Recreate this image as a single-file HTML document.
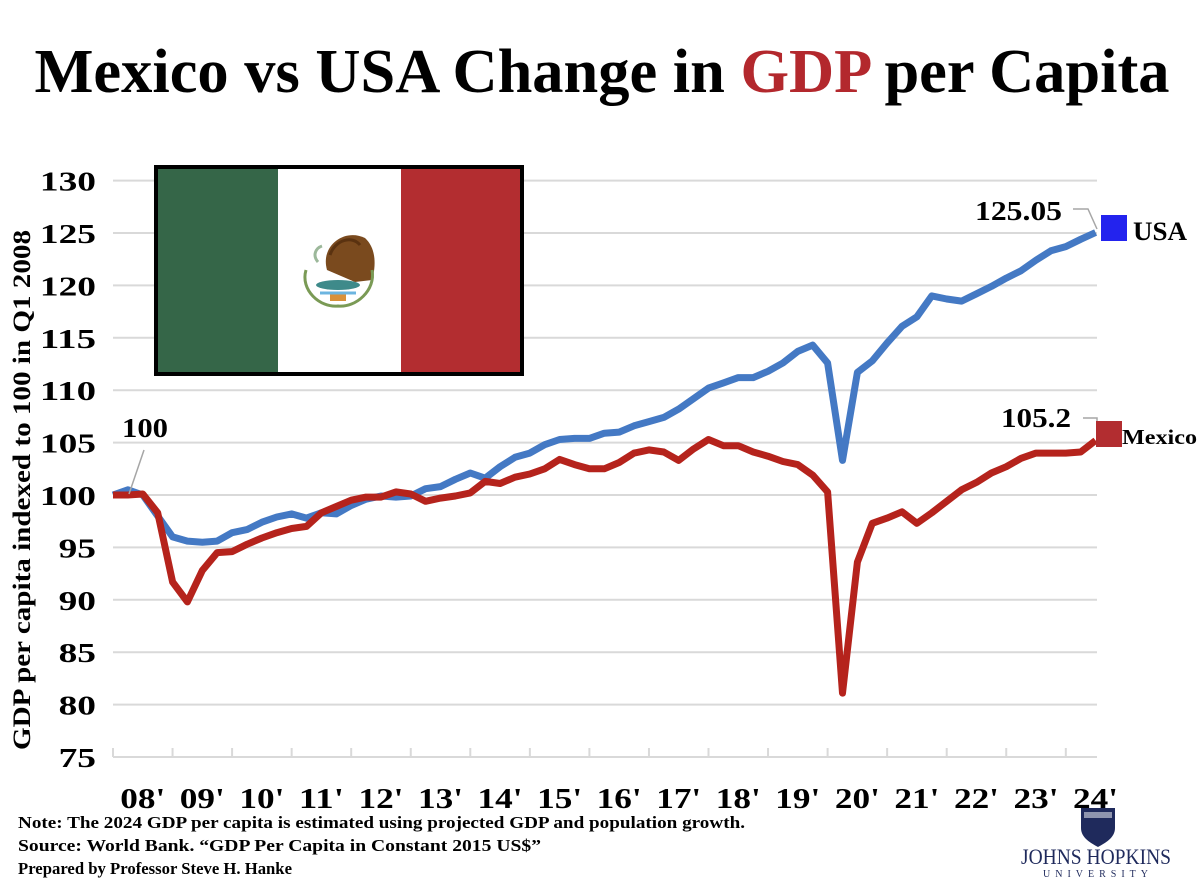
<!DOCTYPE html>
<html><head><meta charset="utf-8"><style>
html,body{margin:0;padding:0;background:#fff;}
svg{display:block;font-family:"Liberation Serif",serif;}
</style></head><body>
<svg id="chart" width="1200" height="879" viewBox="0 0 1200 879">
<text x="602" y="92" text-anchor="middle" font-size="62" font-weight="bold" textLength="1135" lengthAdjust="spacingAndGlyphs">Mexico vs USA Change in <tspan fill="#b3282d">GDP</tspan> per Capita</text>
<g id="grid"></g>
<g id="yticks"></g>
<g id="xticks"></g>
<text transform="translate(30,490) rotate(-90)" text-anchor="middle" font-size="25" font-weight="bold" textLength="520" lengthAdjust="spacingAndGlyphs">GDP per capita indexed to 100 in Q1 2008</text>
<g>
<rect x="156" y="167" width="366" height="207" fill="#fff" stroke="#000" stroke-width="4"/>
<rect x="158" y="169" width="120" height="203" fill="#356648"/>
<rect x="401" y="169" width="119" height="203" fill="#b32d30"/>
<g>
<path d="M327 270 C320 245 345 228 365 238 C378 250 375 270 372 280 L355 282 Z" fill="#7a4a1e"/>
<path d="M330 255 C335 240 352 235 360 245" stroke="#5a3210" stroke-width="3" fill="none"/>
<path d="M318 262 C312 255 316 248 322 246" stroke="#9cb89a" stroke-width="3" fill="none"/>
<path d="M306 270 C300 290 320 308 338 306 C356 308 376 290 372 270" stroke="#7a9a55" stroke-width="3" fill="none"/>
<ellipse cx="338" cy="285" rx="22" ry="5" fill="#3e8a8a"/>
<rect x="330" y="293" width="16" height="8" fill="#d9913a"/>
<path d="M320 293 L356 293" stroke="#6cb5e0" stroke-width="3"/>
</g>
</g>
<g id="plot"></g>
<g>
<text x="122" y="437" font-size="27" font-weight="bold" textLength="46" lengthAdjust="spacingAndGlyphs">100</text>
<line x1="144" y1="450" x2="129" y2="494" stroke="#a6a6a6" stroke-width="1.5"/>
</g>
<g>
<text x="975" y="220" font-size="27" font-weight="bold" textLength="87" lengthAdjust="spacingAndGlyphs">125.05</text>
<polyline points="1073,209 1088,209 1097,229" fill="none" stroke="#a6a6a6" stroke-width="1.5"/>
</g>
<g>
<text x="1001" y="427" font-size="27" font-weight="bold" textLength="70" lengthAdjust="spacingAndGlyphs">105.2</text>
<polyline points="1083,418 1097,418 1097,425" fill="none" stroke="#a6a6a6" stroke-width="1.5"/>
</g>
<g>
<rect x="1101" y="215" width="26" height="26" fill="#2323ee"/>
<text x="1133" y="240" font-size="26" font-weight="bold" textLength="54" lengthAdjust="spacingAndGlyphs">USA</text>
</g>
<g>
<rect x="1096" y="421" width="26" height="26" fill="#b22d30"/>
<text x="1122" y="444" font-size="21" font-weight="bold" textLength="75" lengthAdjust="spacingAndGlyphs">Mexico</text>
</g>
<g font-size="17" font-weight="bold">
<text x="18" y="828" textLength="727" lengthAdjust="spacingAndGlyphs">Note: The 2024 GDP per capita is estimated using projected GDP and population growth.</text>
<text x="18" y="851" textLength="523" lengthAdjust="spacingAndGlyphs">Source: World Bank. “GDP Per Capita in Constant 2015 US$”</text>
<text x="18" y="874" textLength="274" lengthAdjust="spacingAndGlyphs">Prepared by Professor Steve H. Hanke</text>
</g>
<g fill="#1f2a5c">
<path d="M1081 808 L1115 808 L1115 828 C1115 838 1105 843 1098 847 C1091 843 1081 838 1081 828 Z"/>
<rect x="1084" y="812" width="28" height="6" fill="#fff" opacity="0.5"/>
<text x="1096" y="864" text-anchor="middle" font-size="22" textLength="150" lengthAdjust="spacingAndGlyphs">JOHNS HOPKINS</text>
<text x="1098" y="877" text-anchor="middle" font-size="10" letter-spacing="5">UNIVERSITY</text>
</g>
</svg>
<script>
const yTicks = [75,80,85,90,95,100,105,110,115,120,125,130];
const xLabels = ["08'","09'","10'","11'","12'","13'","14'","15'","16'","17'","18'","19'","20'","21'","22'","23'","24'"];
const usa = [100,100.5,100,98,96,95.6,95.5,95.6,96.4,96.7,97.4,97.9,98.2,97.8,98.3,98.2,99.0,99.6,99.9,99.8,99.9,100.6,100.8,101.5,102.1,101.6,102.7,103.6,104.0,104.8,105.3,105.4,105.4,105.9,106.0,106.6,107.0,107.4,108.2,109.2,110.2,110.7,111.2,111.2,111.8,112.6,113.7,114.3,112.6,103.3,111.7,112.8,114.5,116.1,117.0,119.0,118.7,118.5,119.2,119.9,120.7,121.4,122.4,123.3,123.7,124.4,125.05];
const mexico = [100,100,100.1,98.3,91.7,89.8,92.8,94.5,94.6,95.3,95.9,96.4,96.8,97.0,98.3,98.9,99.5,99.8,99.8,100.3,100.1,99.4,99.7,99.9,100.2,101.3,101.1,101.7,102.0,102.5,103.4,102.9,102.5,102.5,103.1,104.0,104.3,104.1,103.3,104.4,105.3,104.7,104.7,104.1,103.7,103.2,102.9,101.9,100.3,81.1,93.6,97.3,97.8,98.4,97.3,98.3,99.4,100.5,101.2,102.1,102.7,103.5,104.0,104.0,104.0,104.1,105.2];
const NS="http://www.w3.org/2000/svg";
const x0=113, yearW=59.55, yBase=757, unit=10.48;
function xq(i){return x0+i*yearW/4;}
function yv(v){return yBase-(v-75)*unit;}
function mk(tag,attrs,parent){const e=document.createElementNS(NS,tag);for(const k in attrs)e.setAttribute(k,attrs[k]);parent.appendChild(e);return e;}
const grid=document.getElementById('grid'), yt=document.getElementById('yticks'), xt=document.getElementById('xticks'), plot=document.getElementById('plot');
yTicks.forEach(v=>{
  const l=mk('line',{x1:113,x2:1097,y1:yv(v),y2:yv(v),stroke:'#d9d9d9','stroke-width':2},grid);
  
  
  const s=String(v);
  const t=mk('text',{x:96,y:yv(v)+10,'text-anchor':'end','font-size':27,'font-weight':'bold',textLength:s.length*18.7,lengthAdjust:'spacingAndGlyphs'},yt);
  t.textContent=s;
  
  
});
xLabels.forEach((s,k)=>{
  const tx=x0+k*yearW;
  const tk=mk('line',{x1:tx,x2:tx,y1:yBase,y2:yBase-9,stroke:'#d9d9d9','stroke-width':2},xt);
  
  
  const t=mk('text',{x:tx+yearW/2,y:808,'text-anchor':'middle','font-size':28,'font-weight':'bold',textLength:45,lengthAdjust:'spacingAndGlyphs'},xt);
  t.textContent=s;
  
  
});
function line(data,color,name){
  const p=mk('polyline',{points:data.map((v,i)=>xq(i).toFixed(1)+','+yv(v).toFixed(1)).join(' '),fill:'none',stroke:color,'stroke-width':7,'stroke-linejoin':'round'},plot);
  
  
}
line(usa,'#4479c4','usa-line');
line(mexico,'#b5231c','mexico-line');
</script>
</body></html>
